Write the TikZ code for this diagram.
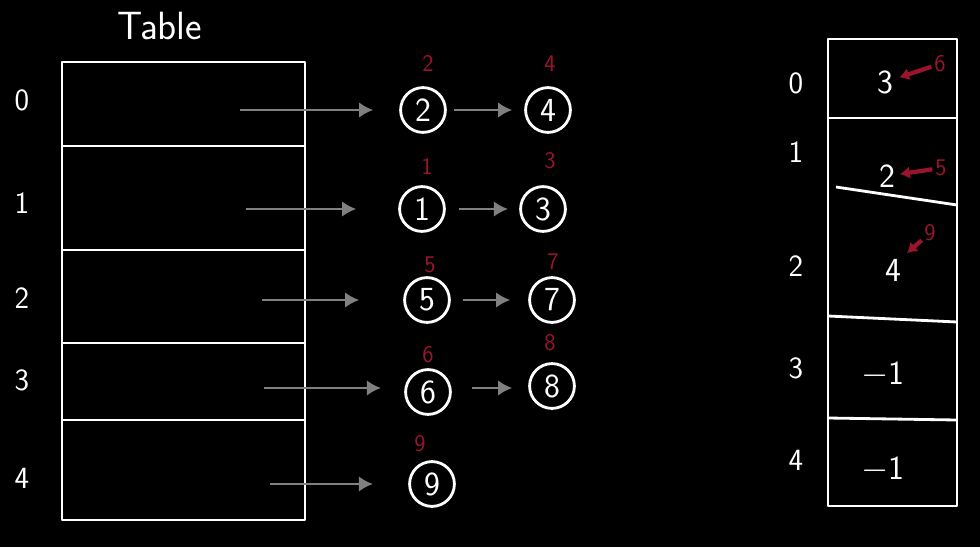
\documentclass[tikz,border=0pt]{standalone}
\usepackage{fontspec}
\usetikzlibrary{arrows.meta}

\definecolor{inkred}{RGB}{155,20,45}
\definecolor{inkgray}{RGB}{128,128,128}

\tikzset{
  wall/.style={draw=white, line width=2pt, line join=round},
  item/.style={draw=white, circle, line width=2pt, minimum size=1.12cm, inner sep=0pt,
    text=white, font=\sffamily\fontsize{24}{24}\selectfont},
  idx/.style={text=inkred, inner sep=1pt, font=\sffamily\fontsize{17}{17}\selectfont},
  rowlbl/.style={text=white, font=\sffamily\fontsize{22}{22}\selectfont},
  cell/.style={text=white, font=\sffamily\fontsize{24}{24}\selectfont},
  link/.style={draw=inkgray, line width=1.7pt, -{Latex[length=10pt,width=11pt]}},
  pick/.style={draw=inkred, line width=3pt, -{Latex[length=7pt,width=9pt]}},
}

\begin{document}
\begin{tikzpicture}[x=0.025cm,y=-0.025cm]
	\fill[black] (0,0) rectangle (980,547);
	\useasboundingbox (0,0) rectangle (980,547);

	% hash table
	\node[rowlbl, font=\sffamily\fontsize{28}{28}\selectfont] (title) at (160,26) {Table};
	\draw[wall] (62,62) rectangle (305,520);
	\foreach \y in {146,250,343,420}
		\draw[wall] (62,\y) -- (305,\y);
	\foreach \y/\k in {100/0,203/1,298/2,380/3,478/4}
		\node[rowlbl] (k\k) at (22,\y) {\k};

	% chains
	\node[item] (n2) at (423,110) {2};
	\node[item] (n4) at (548,110) {4};
	\node[item] (n1) at (422,209) {1};
	\node[item] (n3) at (543,209) {3};
	\node[item] (n5) at (427,300) {5};
	\node[item] (n7) at (552,300) {7};
	\node[item] (n6) at (428,392) {6};
	\node[item] (n8) at (552,386) {8};
	\node[item] (n9) at (432,484) {9};

	\node[idx] (i2) at (428,63) {2};
	\node[idx] (i4) at (550,64) {4};
	\node[idx] (i1) at (427,166) {1};
	\node[idx] (i3) at (550,161) {3};
	\node[idx] (i5) at (430,265) {5};
	\node[idx] (i7) at (553,262) {7};
	\node[idx] (i6) at (428,355) {6};
	\node[idx] (i8) at (550,343) {8};
	\node[idx] (i9) at (420,444) {9};

	\coordinate (s0) at (240,110);
	\coordinate (s1) at (246,209);
	\coordinate (s2) at (262,300);
	\coordinate (s3) at (264,388);
	\coordinate (s4) at (270,484);
	\draw[link, shorten >=0.65cm] (s0) -- (s0 -| n2.west);
	\draw[link, shorten >=1.05cm] (s1) -- (s1 -| n1.west);
	\draw[link, shorten >=1.1cm] (s2) -- (s2 -| n5.west);
	\draw[link, shorten >=0.58cm] (s3) -- (s3 -| n6.west);
	\draw[link, shorten >=0.88cm] (s4) -- (s4 -| n9.west);

	\draw[link, shorten <=0.18cm, shorten >=0.3cm] (n2) -- (n4);
	\draw[link, shorten <=0.32cm, shorten >=0.28cm] (n1) -- (n3);
	\draw[link, shorten <=0.3cm, shorten >=0.45cm] (n5) -- (n7);
	\draw[link, shorten <=0.5cm, shorten >=0.4cm] (n6.east |- s3) -- (n8.west |- s3);

	% next array
	\draw[wall] (828,39) rectangle (957,506);
	\draw[wall] (828,118) -- (957,118);
	\draw[wall] (836,187) -- (957,205);
	\draw[wall] (828,316) -- (957,322);
	\draw[wall] (828,418) -- (957,420);
	\foreach \y/\k in {83/0,152/1,266/2,368/3,460/4}
		\node[rowlbl] (a\k) at (796,\y) {\k};

	\node[cell] (v0) at (885,82) {3};
	\node[cell] (v1) at (887,176) {2};
	\node[cell] (v2) at (893,270) {4};
	\node[cell] (v3) at (883,375) {$-$1};
	\node[cell] (v4) at (883,470) {$-$1};

	\node[idx] (r6) at (940,64) {6};
	\node[idx] (r5) at (941,168) {5};
	\node[idx] (r9) at (930,233) {9};
	\draw[pick, shorten <=1pt, shorten >=1pt] (r6) -- (v0);
	\draw[pick, shorten <=1pt, shorten >=0pt] (r5) -- (v1);
	\draw[pick, shorten <=1pt, shorten >=1pt] (r9) -- (v2.north east);
\end{tikzpicture}
\end{document}
